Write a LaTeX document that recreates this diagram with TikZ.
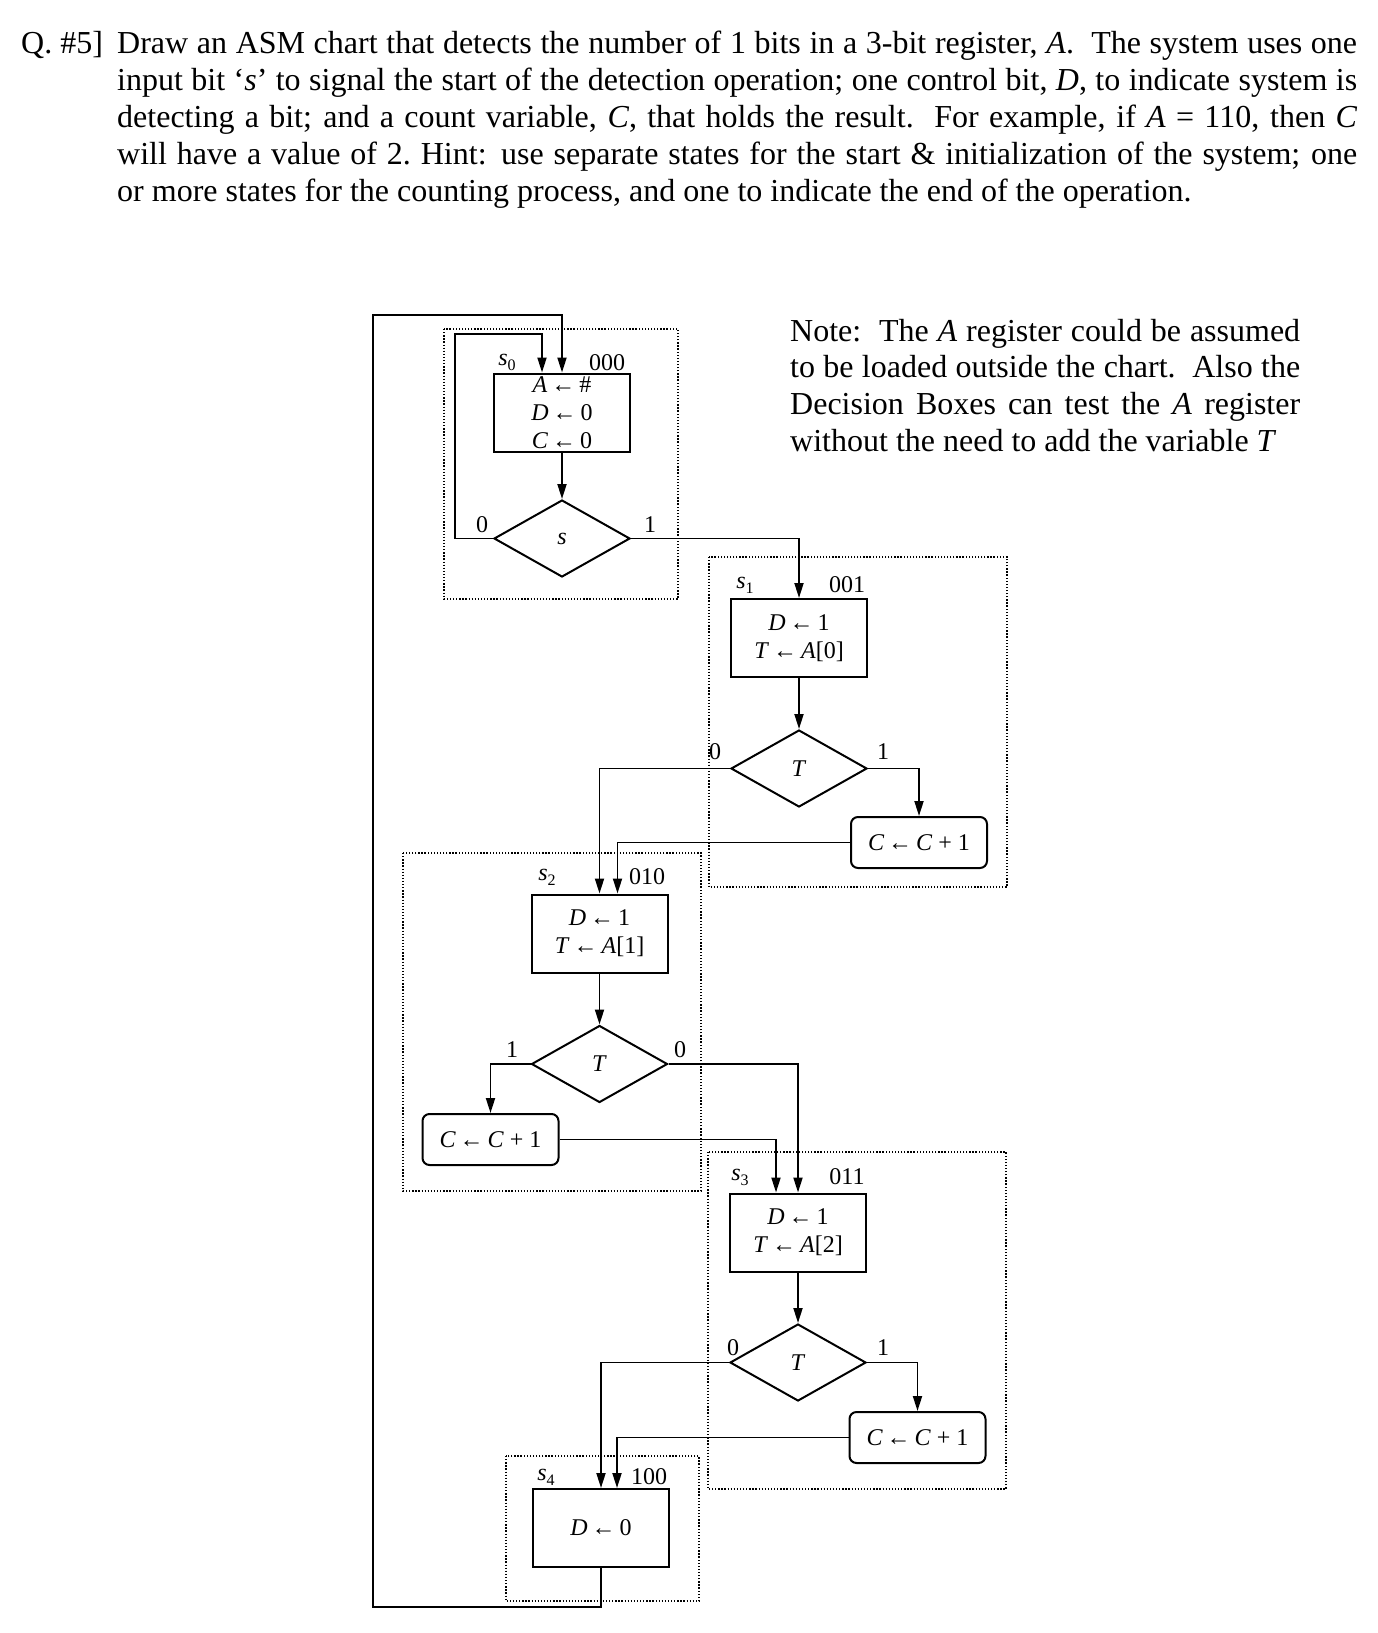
\documentclass[tikz,border=0pt]{standalone}
\usepackage{fontspec}
\setmainfont{Liberation Serif}
\usetikzlibrary{shapes.geometric,arrows.meta,calc}
\newcommand\chartfont{\fontsize{24}{28}\selectfont}
\newcommand\textfnt{\fontsize{32}{36.8}\selectfont}
\newcommand\la{\,←\,}
\newcommand\stname[1]{\textit{s}\raisebox{-5pt}{\fontsize{16}{16}\selectfont #1}}
\tikzset{
  stbox/.style={draw, line width=2pt, minimum width=136pt, minimum height=78pt, inner sep=0pt, align=center, font=\chartfont},
  cond/.style={draw, diamond, aspect=1.75, minimum width=136pt, minimum height=77pt, inner sep=0pt, line width=2pt, font=\chartfont},
  cbox/.style={draw, rounded corners=7pt, minimum width=136pt, minimum height=51pt, inner sep=0pt, line width=2pt, font=\chartfont},
  grp/.style={line width=1.3pt, dash pattern=on 1.3pt off 1.8pt},
  flow/.style={line width=1.9pt, -{Triangle[length=15pt,width=9pt]}},
  lbl/.style={font=\chartfont, inner sep=0pt},
  tline/.style={anchor=base west, inner sep=0pt, font=\textfnt}
}
\begin{document}
\begin{tikzpicture}[x=1pt,y=-1pt]
\useasboundingbox (0,0) rectangle (1377,1633);

% ---- title
\node[tline] (q) at (21,53.5) {Q. \#5]};
\node[tline] (t1) at (117,53.5) {\makebox[1240pt][s]{Draw an ASM chart that detects the number of 1 bits in a 3-bit register, \textit{A}.\ \ The system uses one}};
\node[tline] (t2) at (117,90.4) {\makebox[1240pt][s]{input bit ‘\textit{s}’ to signal the start of the detection operation; one control bit, \textit{D}, to indicate system is}};
\node[tline] (t3) at (117,127.3) {\makebox[1240pt][s]{detecting a bit; and a count variable, \textit{C}, that holds the result.\ \ For example, if \textit{A} = 110, then \textit{C}}};
\node[tline] (t4) at (117,164.2) {\makebox[1240pt][s]{will have a value of 2.\@ Hint: use separate states for the start \& initialization of the system; one}};
\node[tline] (t5) at (117,201) {or more states for the counting process, and one to indicate the end of the operation.};

% ---- note
\node[tline] (n1) at (790,341) {\makebox[510pt][s]{Note:\ \ The \textit{A} register could be assumed}};
\node[tline] (n2) at (790,377.7) {\makebox[510pt][s]{to be loaded outside the chart.\ \ Also the}};
\node[tline] (n3) at (790,414.4) {\makebox[510pt][s]{Decision Boxes can test the \textit{A} register}};
\node[tline] (n4) at (790,451) {without the need to add the variable \textit{T}};

% ---- group frames
\draw[grp] (444,329) rectangle (678,599);
\draw[grp] (709,557) rectangle (1007,887);
\draw[grp] (403,853) rectangle (701,1191);
\draw[grp] (708,1152) rectangle (1006,1489);
\draw[grp] (506,1456) rectangle (699,1601);

% ---- state S0
\node[stbox] (s0) at (562,412.5) {\textit{A}\la\#\\\textit{D}\la 0\\\textit{C}\la 0};
\node[cond] (d0) at (562,538.5) {\textit{s}};
\node[lbl] (s0n) at (507,362) {\stname{0}};
\node[lbl] (s0c) at (607,363) {000};
\node[lbl] (d0l) at (482,525) {0};
\node[lbl] (d0r) at (650,525) {1};

% ---- state S1
\node[stbox] (s1) at (799,638) {\textit{D}\la 1\\\textit{T}\la \textit{A}[0]};
\node[cond] (d1) at (799,768.5) {\textit{T}};
\node[cbox] (c1) at (919,842.5) {\textit{C}\la\textit{C} + 1};
\node[lbl] (s1n) at (745,585) {\stname{1}};
\node[lbl] (s1c) at (847,585) {001};
\node[lbl] (d1l) at (715,752) {0};
\node[lbl] (d1r) at (883,752) {1};

% ---- state S2
\node[stbox] (s2) at (599.5,933.5) {\textit{D}\la 1\\\textit{T}\la \textit{A}[1]};
\node[cond] (d2) at (599.5,1064) {\textit{T}};
\node[cbox] (c2) at (490.5,1139.5) {\textit{C}\la\textit{C} + 1};
\node[lbl] (s2n) at (547,877) {\stname{2}};
\node[lbl] (s2c) at (647,877) {010};
\node[lbl] (d2l) at (512,1050) {1};
\node[lbl] (d2r) at (680,1050) {0};

% ---- state S3
\node[stbox] (s3) at (798,1232.5) {\textit{D}\la 1\\\textit{T}\la \textit{A}[2]};
\node[cond] (d3) at (798,1362.5) {\textit{T}};
\node[cbox] (c3) at (917.5,1437.5) {\textit{C}\la\textit{C} + 1};
\node[lbl] (s3n) at (740,1177) {\stname{3}};
\node[lbl] (s3c) at (847,1177) {011};
\node[lbl] (d3l) at (733,1348) {0};
\node[lbl] (d3r) at (883,1348) {1};

% ---- state S4
\node[stbox] (s4) at (601,1528) {\textit{D}\la 0};
\node[lbl] (s4n) at (546,1477) {\stname{4}};
\node[lbl] (s4c) at (649,1477) {100};

% ---- connectors
\draw[flow] (s0) -- (d0);
\draw[flow] (d0.west) -| (455,334) -| ($(s0.north)+(-20,0)$);
\draw[flow] (s4.south) -- (601,1607) -| (373,315) -| (s0.north);
\draw[flow] (d0.east) -| (s1.north);

\draw[flow] (s1) -- (d1);
\draw[flow] (d1.east) -| (c1.north);
\draw[flow] (d1.west) -| (s2.north);
\draw[flow] (c1.west) -| ($(s2.north)+(18,0)$);

\draw[flow] (s2) -- (d2);
\draw[flow] (d2.west) -| (c2.north);
\draw[flow] (d2.east) -| (s3.north);
\draw[flow] (c2.east) -| ($(s3.north)+(-22,0)$);

\draw[flow] (s3) -- (d3);
\draw[flow] (d3.east) -| (c3.north);
\draw[flow] (d3.west) -| (s4.north);
\draw[flow] (c3.west) -| ($(s4.north)+(16,0)$);
\end{tikzpicture}
\end{document}
